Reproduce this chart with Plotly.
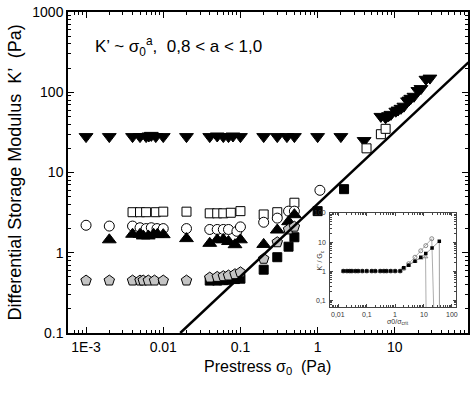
import math
import plotly.graph_objects as go

# ---------------- data (main chart) ----------------
# filled down-triangles
tri_dn_x = [0.001, 0.002, 0.004, 0.005, 0.006, 0.0065, 0.007, 0.008, 0.01, 0.02,
            0.04, 0.05, 0.06, 0.07, 0.08, 0.1, 0.2, 0.3, 0.4, 0.5, 1, 2, 4,
            6.6, 7.6, 8.3, 8.9, 10.3, 11, 12, 13.1, 14.6, 15.3, 16.1, 17.7, 19.9, 21.8, 25.3, 28.5]
tri_dn_y = [28, 28, 28, 28, 28, 28.5, 29, 28, 28, 28,
            28, 28.5, 28, 28, 28.5, 28, 28, 28, 28, 28, 28, 28, 25,
            50, 48, 51, 53, 58, 60, 63, 67, 78, 80, 84, 89, 105, 111, 145, 150]

# open squares
sq_open_x = [0.004, 0.005, 0.006, 0.008, 0.01, 0.02, 0.04, 0.05, 0.06, 0.075, 0.1,
             0.2, 0.3, 0.5, 4.3, 6.6, 7.6]
sq_open_y = [3.2, 3.2, 3.2, 3.2, 3.25, 3.25, 3.1, 3.1, 3.1, 3.15, 3.3,
             3.0, 3.2, 4.2, 20, 30, 35]

# open circles
circ_x = [0.001, 0.002, 0.004, 0.005, 0.006, 0.007, 0.0083, 0.01, 0.02, 0.04, 0.05,
          0.06, 0.07, 0.09, 0.1, 0.2, 0.3, 0.42, 0.5, 1.07]
circ_y = [2.2, 2.15, 2.15, 2.05, 2.0, 2.05, 2.0, 2.0, 2.0, 1.95, 1.95,
          1.95, 1.95, 1.85, 2.1, 2.4, 2.7, 3.3, 3.3, 6.0]

# filled up-triangles
tri_up_x = [0.002, 0.004, 0.005, 0.0055, 0.0064, 0.0075, 0.0084, 0.01, 0.02,
            0.04, 0.05, 0.06, 0.07, 0.085, 0.1, 0.2, 0.3, 0.42, 0.5]
tri_up_y = [1.45, 1.7, 1.7, 1.62, 1.62, 1.7, 1.7, 1.68, 1.5,
            1.31, 1.45, 1.46, 1.38, 1.26, 1.45, 1.27, 1.92, 2.44, 2.98]

# filled squares
sq_fill_x = [0.04, 0.05, 0.06, 0.07, 0.085, 0.1, 0.2, 0.3, 0.42, 0.5, 1.0, 2.2]
sq_fill_y = [0.45, 0.45, 0.455, 0.46, 0.47, 0.475, 0.615, 0.88, 1.19, 1.56, 3.3, 6.2]

# gray pentagons
pent_x = [0.001, 0.002, 0.004, 0.005, 0.0055, 0.0064, 0.0077, 0.01, 0.02,
          0.04, 0.05, 0.06, 0.07, 0.085, 0.1, 0.2, 0.3, 0.42, 0.5]
pent_y = [0.45, 0.45, 0.45, 0.45, 0.45, 0.45, 0.45, 0.45, 0.45,
          0.49, 0.50, 0.51, 0.52, 0.54, 0.57, 0.84, 1.35, 1.95, 2.11]

# power-law guide line
line_x = [0.0166, 90]
line_y = [0.1, 236]

x_tickvals = [0.001, 0.01, 0.1, 1, 10]
x_ticktext = ["1E-3", "0.01", "0.1", "1", "10"]
y_tickvals = [0.1, 1, 10, 100, 1000]
y_ticktext = ["0.1", "1", "10", "100", "1000"]

# ---------------- data (inset) ----------------
in_flat_x = [0.015, 0.02, 0.025, 0.03, 0.04, 0.05, 0.07, 0.1, 0.15, 0.2, 0.3, 0.4, 0.5, 0.7, 1.0, 1.5]
in_a_x = in_flat_x + [2, 3, 5, 8, 12, 19.5, 24]
in_a_y = [1] * 16 + [1.25, 1.8, 3.0, 5.0, 7.5, 13, 0.01]
in_b_x = in_flat_x + [2, 3, 5, 8, 11.8, 12.5]
in_b_y = [1] * 16 + [1.2, 1.6, 2.2, 2.8, 3.1, 0.01]
in_c_x = in_flat_x + [2, 3, 5, 8, 12, 20, 36, 36.5]
in_c_y = [1] * 16 + [1.3, 1.6, 2.2, 3.0, 4.0, 6.2, 10.7, 0.01]

in_x_tickvals = [0.01, 0.1, 1, 10, 100]
in_x_ticktext = ["0,01", "0,1", "1", "10", "100"]
in_y_tickvals = [0.1, 1, 10, 100]
in_y_ticktext = ["0,1", "1", "10", "100"]

minor_vals = [m * 10 ** e for e in range(-4, 3) for m in range(2, 10)]

IN_X0, IN_X1, IN_Y0, IN_Y1 = 0.656, 0.969, 0.0796, 0.374

fig = go.Figure()

def add(x, y, symbol, size, fill, line_color="black", lw=1.0):
    fig.add_trace(go.Scatter(
        x=x, y=y, mode="markers",
        marker=dict(symbol=symbol, size=size, color=fill,
                    line=dict(color=line_color, width=lw)),
        showlegend=False, xaxis="x", yaxis="y", cliponaxis=False))

add(tri_dn_x, tri_dn_y, "triangle-down", 12, "black")
add(sq_open_x, sq_open_y, "square", 9, "white")
add(circ_x, circ_y, "circle", 10, "white")
add(tri_up_x, tri_up_y, "triangle-up", 12, "black")
add(sq_fill_x, sq_fill_y, "square", 9, "black")
add(pent_x, pent_y, "pentagon", 11, "#c4c4c4")

fig.add_trace(go.Scatter(x=line_x, y=line_y, mode="lines",
                         line=dict(color="black", width=2.5),
                         showlegend=False, xaxis="x", yaxis="y"))

# inset traces
fig.add_trace(go.Scatter(x=in_a_x, y=in_a_y, mode="lines+markers",
                         line=dict(color="#999999", width=0.8),
                         marker=dict(symbol="circle-open", size=4, color="#888888"),
                         showlegend=False, xaxis="x2", yaxis="y2"))
fig.add_trace(go.Scatter(x=in_b_x, y=in_b_y, mode="lines+markers",
                         line=dict(color="#999999", width=0.8),
                         marker=dict(symbol="triangle-up-open", size=4, color="#888888"),
                         showlegend=False, xaxis="x2", yaxis="y2"))
fig.add_trace(go.Scatter(x=in_c_x, y=in_c_y, mode="lines+markers",
                         line=dict(color="#888888", width=0.8),
                         marker=dict(symbol="square", size=3.5, color="black"),
                         showlegend=False, xaxis="x2", yaxis="y2"))

axis_font = dict(family="Liberation Sans, Arial, sans-serif", size=14, color="black")
inset_font = dict(family="Liberation Sans, Arial, sans-serif", size=7, color="#333333")

annotations = [
    dict(text="K\u2019 ~ \u03c3<sub>0</sub><sup>a</sup>,  0,8 < a < 1,0",
         xref="paper", yref="paper", x=0.062, y=0.892,
         xanchor="left", yanchor="middle", showarrow=False,
         font=dict(size=17, color="black")),
    dict(text="Differential Storage Modulus  K\u2019  (Pa)",
         xref="paper", yref="paper", x=-0.135, y=0.5, textangle=-90,
         xanchor="center", yanchor="middle", showarrow=False,
         font=dict(size=18, color="black")),
    dict(text="Prestress \u03c3<sub>0</sub>  (Pa)",
         xref="paper", yref="paper", x=0.499, y=-0.108,
         xanchor="center", yanchor="middle", showarrow=False,
         font=dict(size=16, color="black")),
    dict(text="K\u2019 / G<sub>c</sub>",
         xref="paper", yref="paper", x=0.631, y=0.227, textangle=-90,
         xanchor="center", yanchor="middle", showarrow=False,
         font=inset_font),
    dict(text="\u03c30/\u03c3<sub>crit</sub>",
         xref="paper", yref="paper", x=0.826, y=0.035,
         xanchor="center", yanchor="middle", showarrow=False,
         font=inset_font),
]
# inset tick labels (placed through the inset axes)
for v, t in zip(in_x_tickvals, in_x_ticktext):
    annotations.append(dict(text=t, xref="x2", yref="paper", x=math.log10(v), y=IN_Y0 - 0.005,
                            xanchor="center", yanchor="top", showarrow=False, font=inset_font))
for v, t in zip(in_y_tickvals, in_y_ticktext):
    annotations.append(dict(text=t, xref="paper", yref="y2", x=IN_X0 - 0.005, y=math.log10(v),
                            xanchor="right", yanchor="middle", showarrow=False, font=inset_font))

fig.update_layout(
    width=474, height=395,
    margin=dict(l=68, r=4, t=10, b=62),
    paper_bgcolor="white", plot_bgcolor="white",
    font=dict(family="Liberation Sans, Arial, sans-serif", color="black"),
    xaxis=dict(type="log", range=[-3.234, 1.948], showgrid=False, zeroline=False,
               showline=True, linecolor="black", linewidth=1.5, mirror="allticks",
               ticks="inside", ticklen=6, tickwidth=1, tickcolor="black",
               tickmode="array", tickvals=x_tickvals, ticktext=x_ticktext,
               tickfont=axis_font,
               minor=dict(ticks="inside", ticklen=3, tickcolor="black",
                          tickmode="array", tickvals=minor_vals, showgrid=False)),
    yaxis=dict(type="log", range=[-1, 3], showgrid=False, zeroline=False,
               showline=True, linecolor="black", linewidth=1.5, mirror="allticks",
               ticks="inside", ticklen=6, tickwidth=1, tickcolor="black",
               tickmode="array", tickvals=y_tickvals, ticktext=y_ticktext,
               tickfont=axis_font,
               minor=dict(ticks="inside", ticklen=3, tickcolor="black",
                          tickmode="array", tickvals=minor_vals, showgrid=False)),
    xaxis2=dict(type="log", range=[-2.28, 2.13], domain=[IN_X0, IN_X1], anchor="y2",
                showgrid=False, zeroline=False, showline=True, linecolor="#444444",
                linewidth=1, mirror="allticks", ticks="inside", ticklen=3,
                tickcolor="#444444", tickmode="array", tickvals=in_x_tickvals,
                showticklabels=False,
                minor=dict(ticks="inside", ticklen=2, tickcolor="#444444",
                           tickmode="array", tickvals=minor_vals)),
    yaxis2=dict(type="log", range=[-1.25, 2.0], domain=[IN_Y0, IN_Y1], anchor="x2",
                showgrid=False, zeroline=False, showline=True, linecolor="#444444",
                linewidth=1, mirror="allticks", ticks="inside", ticklen=3,
                tickcolor="#444444", tickmode="array", tickvals=in_y_tickvals,
                showticklabels=False,
                minor=dict(ticks="inside", ticklen=2, tickcolor="#444444",
                           tickmode="array", tickvals=minor_vals)),
    shapes=[dict(type="rect", xref="paper", yref="paper",
                 x0=IN_X0, x1=IN_X1, y0=IN_Y0, y1=IN_Y1,
                 fillcolor="white", line=dict(width=0), layer="below")],
    annotations=annotations,
)

fig.write_html("out.html")
